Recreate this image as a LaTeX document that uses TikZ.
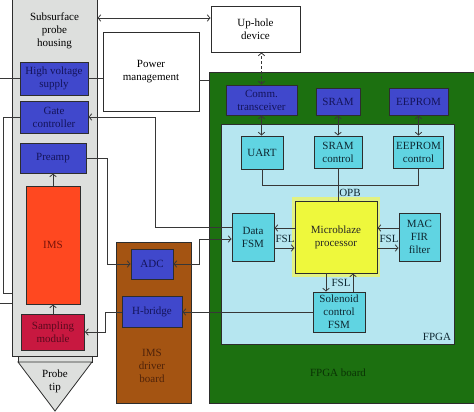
\documentclass[tikz,border=0pt]{standalone}
\usepackage{fontspec}
\setmainfont{Liberation Serif}
\usetikzlibrary{arrows.meta}
\definecolor{housingc}{RGB}{221,223,221}
\definecolor{bluec}{RGB}{64,72,204}
\definecolor{bluetext}{RGB}{20,20,90}
\definecolor{imsc}{RGB}{255,72,32}
\definecolor{imstext}{RGB}{120,20,10}
\definecolor{sampc}{RGB}{200,24,64}
\definecolor{samptext}{RGB}{90,10,30}
\definecolor{greenc}{RGB}{28,112,16}
\definecolor{greentext}{RGB}{10,50,5}
\definecolor{fpgac}{RGB}{182,230,240}
\definecolor{cyanc}{RGB}{96,212,226}
\definecolor{cyantext}{RGB}{15,40,50}
\definecolor{yellowc}{RGB}{238,248,60}
\definecolor{glowc}{RGB}{226,242,130}
\definecolor{brownc}{RGB}{164,84,18}
\definecolor{browntext}{RGB}{80,35,10}
\definecolor{edge}{RGB}{45,45,45}
\definecolor{wire}{RGB}{55,55,55}
\begin{document}
\begin{tikzpicture}[x=1pt,y=-1pt,
  >={Straight Barb[length=3pt,width=6.5pt]},
  sz/.style 2 args={minimum width=#1pt, minimum height=#2pt},
  txt/.style={align=center, inner sep=0pt, font=\fontsize{11}{13}\selectfont},
  box/.style={txt, draw=edge, line width=0.8pt},
  bluebox/.style={box, fill=bluec, text=bluetext},
  cyanbox/.style={box, fill=cyanc, text=cyantext},
  whitebox/.style={box, fill=white, text=black},
  region/.style={draw=edge, line width=0.8pt},
  wires/.style={draw=wire, line width=0.75pt},
]
\useasboundingbox (0,0) rectangle (474,412);

% containers
\node[region, fill=greenc, sz={268}{331}] (board) at (343,237.5) {};
\node[region, fill=fpgac, sz={233}{220}] (fpga) at (337.5,234) {};
\node[region, fill=brownc, sz={75}{161}] (driver) at (153.5,322.5) {};
\node[region, fill=housingc, sz={85}{361}] (housing) at (54.5,175.5) {};

% probe tip
\filldraw[region, fill=housingc] (18,356) rectangle (92,362);
\filldraw[region, fill=housingc] (18,362) -- (92,362) -- (55,411) -- cycle;

% container labels
\node[txt] (hlabel) at (54.5,31) {Subsurface\\probe\\housing};
\node[txt] (tiplabel) at (55,381) {Probe\\tip};
\node[txt, text=browntext] (dlabel) at (152,366) {IMS\\driver\\board};
\node[txt, text=greentext] (blabel) at (338,373) {FPGA board};
\node[txt, text=cyantext] (flabel) at (437,337) {FPGA};

% probe housing contents
\node[bluebox, sz={68}{33}] (hv) at (54,78.5) {High voltage\\supply};
\node[bluebox, sz={68}{32}] (gate) at (54,117) {Gate\\controller};
\node[bluebox, sz={66}{30}] (preamp) at (53,158) {Preamp};
\node[box, fill=imsc, text=imstext, sz={54}{118}] (ims) at (53,245) {IMS};
\node[box, fill=sampc, text=samptext, sz={63}{36}] (samp) at (53,332) {Sampling\\module};

% outside boxes
\node[whitebox, sz={89}{46}] (uphole) at (255.5,29) {Up-hole\\device};
\node[whitebox, sz={96}{79}] (power) at (151,71.5) {Power\\management};

% driver board
\node[bluebox, sz={42}{30}] (adc) at (152,264) {ADC};
\node[bluebox, sz={60}{31}] (hbridge) at (152,312) {H-bridge};

% FPGA board
\node[bluebox, sz={71}{30}] (comm) at (261.5,100) {Comm.\\transceiver};
\node[bluebox, sz={44}{27}] (sram) at (338,101.5) {SRAM};
\node[bluebox, sz={59}{27}] (eeprom) at (418.5,101.5) {EEPROM};
\node[cyanbox, sz={42}{33}] (uart) at (262,152.5) {UART};
\node[cyanbox, sz={48}{32}] (sramc) at (338,152) {SRAM\\control};
\node[cyanbox, sz={50}{32}] (eepromc) at (418.5,152) {EEPROM\\control};
\fill[glowc] (292,197) rectangle (380,277);
\node[box, fill=yellowc, text=black!85, sz={82}{72}] (mb) at (336,237) {Microblaze\\processor};
\node[cyanbox, sz={42}{48}] (dfsm) at (253,237) {Data\\FSM};
\node[cyanbox, sz={41}{48}] (mac) at (419.5,237) {MAC\\FIR\\filter};
\node[cyanbox, sz={52}{40}] (sol) at (339,312) {Solenoid\\control\\FSM};

% bus labels
\node[txt, text=cyantext] (opb) at (350,193) {OPB};
\node[txt, text=cyantext] (fsl1) at (285,239) {FSL};
\node[txt, text=cyantext] (fsl2) at (389,239) {FSL};
\node[txt, text=cyantext] (fsl3) at (341,283) {FSL};

% connectors
\coordinate (uh) at ([yshift=11pt]uphole.west);
\draw[wires, <->] (uh) -- (uh -| housing.east);
\draw[wires, <->, dash pattern=on 3pt off 2pt] (comm.north) -- (comm.north |- uphole.south);
\draw[wires] (hv.east) -- (hv.east -| power.west);
\coordinate (pm) at ([yshift=-9pt]power.east);
\draw[wires] (pm) -- (pm -| board.west);
\coordinate (hvin) at (12,303);
\draw[wires] (hv.west) -- ++(-24,0) |- (hvin);
\coordinate (gatein) at (12,293);
\draw[wires] (gate.west) -- ++(-16,0) |- (gatein);
\draw[wires, ->] (ims.north) -- (preamp.south);
\draw[wires, ->] (samp.north) -- (ims.south);
\draw[wires, ->] ([yshift=10pt]dfsm.west) -- ++(-76,0) |- (gate.east);
\draw[wires, ->] (preamp.east) -- ++(21,0) |- (adc.west);
\draw[wires, <->] (adc.east) -- ++(26,0) |- ([yshift=-2pt]dfsm.west);
\draw[wires, ->] (sol.west) -- (sol.west -| hbridge.east);
\draw[wires, ->] (hbridge.west) -- ++(-16,0) |- (samp.east);
\draw[wires, <->] (comm.south) -- (comm.south |- uart.north);
\draw[wires, <->] (sram.south) -- (sramc.north);
\draw[wires, <->] (eeprom.south) -- (eepromc.north);
\draw[wires] (uart.south) -- ++(0,16) -| (eepromc.south);
\draw[wires] (sramc.south) -- (sramc.south |- mb.north);
\draw[wires, ->] ([yshift=9pt]mb.west) -- ([yshift=9pt]dfsm.east);
\draw[wires, ->] ([yshift=-11pt]dfsm.east) -- ([yshift=-11pt]mb.west);
\draw[wires, ->] ([yshift=9pt]mac.west) -- ([yshift=9pt]mb.east);
\draw[wires, ->] ([yshift=-11pt]mb.east) -- ([yshift=-11pt]mac.west);
\coordinate (s1) at ([xshift=-13pt]sol.north);
\coordinate (s2) at ([xshift=14pt]sol.north);
\draw[wires, ->] (s1 |- mb.south) -- (s1);
\draw[wires, ->] (s2) -- (s2 |- mb.south);
\end{tikzpicture}
\end{document}
